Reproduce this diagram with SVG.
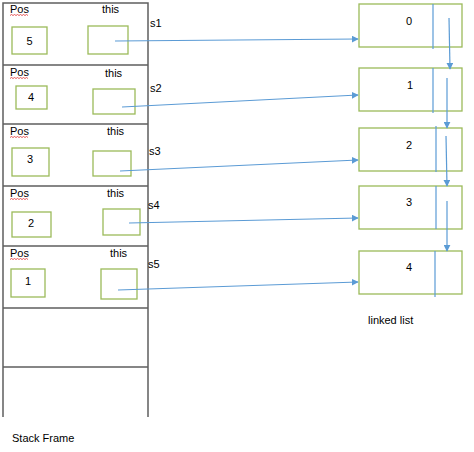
<svg xmlns="http://www.w3.org/2000/svg" width="474" height="452" viewBox="0 0 474 452">
<defs>
<style>
text{font-family:"Liberation Sans",Arial,sans-serif;font-size:11px;fill:#000}
.frame{fill:none;stroke:#5f5f5f;stroke-width:1.5}
.box{fill:#fff;stroke:#9bbb59;stroke-width:1.3}
.ptr{stroke:#5b9bd5;stroke-width:1.2;fill:none}
.arr{stroke:#5b9bd5;stroke-width:1.2;fill:none;marker-end:url(#ah)}
.sq{stroke:#e03030;stroke-width:0.8;fill:none}
.c{text-anchor:middle}
</style>
<marker id="ah" viewBox="0 0 10 10" refX="9" refY="5" markerWidth="7" markerHeight="7" markerUnits="userSpaceOnUse" orient="auto">
<path d="M0,0 L10,5 L0,10 z" fill="#5b9bd5"/>
</marker>
</defs>
<rect width="474" height="452" fill="#fff"/>
<g id="stack">
<path class="frame" d="M3,417 V3 H148 V417 M3,65 H148 M3,124 H148 M3,186 H148 M3,246 H148 M3,308 H148 M3,367 H148"/>
</g>
<g id="frame1">
<text x="10" y="13">Pos</text><path class="sq" d="M10,15.5 l1.5,-1 l1.5,1 l1.5,-1 l1.5,1 l1.5,-1 l1.5,1 l1.5,-1 l1.5,1 l1.5,-1 l1.5,1 l1.5,-1 l1.5,1"/>
<text x="102" y="13">this</text>
<rect class="box" x="12" y="27" width="35" height="27"/><text class="c" x="29.5" y="45">5</text>
<rect class="box" x="88" y="26" width="40" height="28"/>
<text x="150" y="27">s1</text>
</g>
<g id="frame2">
<text x="10" y="76">Pos</text><path class="sq" d="M10,78.5 l1.5,-1 l1.5,1 l1.5,-1 l1.5,1 l1.5,-1 l1.5,1 l1.5,-1 l1.5,1 l1.5,-1 l1.5,1 l1.5,-1 l1.5,1"/>
<text x="105" y="77">this</text>
<rect class="box" x="16" y="86" width="31" height="23"/><text class="c" x="31" y="101">4</text>
<rect class="box" x="93" y="89" width="42" height="25"/>
<text x="150" y="92">s2</text>
</g>
<g id="frame3">
<text x="10" y="135">Pos</text><path class="sq" d="M10,137.5 l1.5,-1 l1.5,1 l1.5,-1 l1.5,1 l1.5,-1 l1.5,1 l1.5,-1 l1.5,1 l1.5,-1 l1.5,1 l1.5,-1 l1.5,1"/>
<text x="107" y="135">this</text>
<rect class="box" x="12" y="148" width="37" height="28"/><text class="c" x="30" y="163">3</text>
<rect class="box" x="93" y="151" width="38" height="25"/>
<text x="149" y="155">s3</text>
</g>
<g id="frame4">
<text x="10" y="197">Pos</text><path class="sq" d="M10,199.5 l1.5,-1 l1.5,1 l1.5,-1 l1.5,1 l1.5,-1 l1.5,1 l1.5,-1 l1.5,1 l1.5,-1 l1.5,1 l1.5,-1 l1.5,1"/>
<text x="107" y="197">this</text>
<rect class="box" x="12" y="212" width="39" height="25"/><text class="c" x="31" y="227">2</text>
<rect class="box" x="103" y="209" width="37" height="26"/>
<text x="148" y="209">s4</text>
</g>
<g id="frame5">
<text x="10" y="257">Pos</text><path class="sq" d="M10,259.5 l1.5,-1 l1.5,1 l1.5,-1 l1.5,1 l1.5,-1 l1.5,1 l1.5,-1 l1.5,1 l1.5,-1 l1.5,1 l1.5,-1 l1.5,1"/>
<text x="110" y="257">this</text>
<rect class="box" x="11" y="269" width="34" height="28"/><text class="c" x="28" y="285">1</text>
<rect class="box" x="101" y="269" width="36" height="30"/>
<text x="148" y="268">s5</text>
</g>
<g id="node0">
<rect class="box" x="359" y="4" width="103" height="43"/>
<text class="c" x="409" y="25">0</text>
<path class="ptr" d="M433,4 V49"/>
</g>
<g id="node1">
<rect class="box" x="359" y="68" width="103" height="43"/>
<text class="c" x="410" y="89">1</text>
<path class="ptr" d="M433,68 V113"/>
</g>
<g id="node2">
<rect class="box" x="359" y="128" width="103" height="43"/>
<text class="c" x="409" y="149">2</text>
<path class="ptr" d="M436,126 V172"/>
</g>
<g id="node3">
<rect class="box" x="359" y="186" width="103" height="43"/>
<text class="c" x="409" y="206">3</text>
<path class="ptr" d="M436,186 V229"/>
</g>
<g id="node4">
<rect class="box" x="359" y="251" width="103" height="43"/>
<text class="c" x="409" y="271">4</text>
<path class="ptr" d="M435,251 V297"/>
</g>
<g id="connectors">
<path class="arr" d="M115,41 L358,39"/>
<path class="arr" d="M122,107 L358,95"/>
<path class="arr" d="M120,171 L358,160"/>
<path class="arr" d="M129,223 L358,218"/>
<path class="arr" d="M118,290 L358,282"/>
<path class="arr" d="M449,18 L450,69"/>
<path class="arr" d="M447,78 L447,128"/>
<path class="arr" d="M446,136 L447,186"/>
<path class="arr" d="M447,201 L447,251"/>
</g>
<text x="368" y="324">linked list</text>
<text x="12" y="442">Stack Frame</text>
</svg>
